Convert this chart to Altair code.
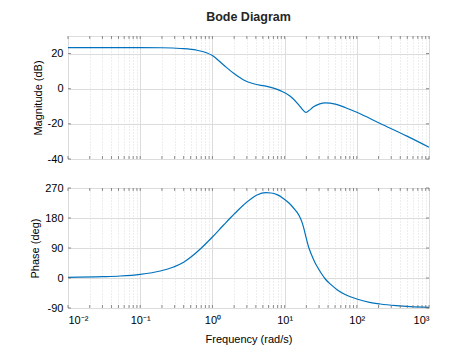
import altair as alt
import pandas as pd

# ---- data ----
mag_freq = [0.01, 0.1, 0.2, 0.36, 0.61, 1.0, 1.43, 1.97, 2.71, 3.72, 5.7, 8.7,
            12.0, 15.6, 18.0, 19.7, 21.5, 25.2, 30.0, 36.6, 50.4, 70.0, 100.0,
            211.0, 495.0, 1000.0]
mag_db = [23.4, 23.4, 23.3, 22.9, 21.9, 18.9, 13.5, 8.8, 5.0, 2.8, 1.3, -1.1,
          -4.3, -9.0, -12.2, -13.5, -12.6, -10.3, -8.8, -8.1, -8.8, -10.8, -13.4,
          -19.8, -27.0, -33.3]

ph_freq = [0.01, 0.03, 0.053, 0.1, 0.19, 0.29, 0.40, 0.52, 0.68, 1.0, 1.43,
           2.07, 3.01, 4.15, 5.5, 6.5, 7.85, 9.7, 11.5, 13.3, 15.0, 16.5, 17.5,
           18.5, 19.5, 20.5, 21.5, 22.7, 24.0, 26.0, 28.1, 32.0, 36.6, 44.0,
           53.2, 70.0, 100.0, 150.0, 211.0, 350.0, 551.0, 1000.0]
ph_deg = [2, 4, 6, 11, 21, 33, 47, 65, 87, 123, 159,
          195, 228, 249, 256, 255, 250, 238, 225, 210, 196, 180, 166,
          148, 128, 109, 93, 79, 66, 49, 35, 15, -3, -20,
          -35, -50, -63, -73, -78, -83, -86, -88]

x_major = [0.01, 0.1, 1, 10, 100, 1000]
x_minor = [m * d for d in [0.01, 0.1, 1, 10, 100] for m in range(2, 10)]
mag_ticks = [-40, -20, 0, 20]
ph_ticks = [-90, 0, 90, 180, 270]

mag_df = pd.DataFrame({"f": mag_freq, "v": mag_db})
ph_df = pd.DataFrame({"f": ph_freq, "v": ph_deg})

W, H1, H2 = 361, 123, 120
LINE = "#0072BD"
TXT = "#404040"
GRID = "#dcdcdc"
BOX = "#6e6e6e"
FONT = "Liberation Sans"
TL = 3  # tick length

sup = "['\u207b\u00b2','\u207b\u00b9','\u2070','\u00b9','\u00b2','\u00b3'][round(log(datum.value)/LN10)+2]"
xlabel_expr = "'10' + " + sup


def panel(df, dom, ticks, ytitle, h, show_x, title=None):
    xs = alt.Scale(type="log", domain=[0.01, 1000], nice=False)
    ys = alt.Scale(domain=dom, nice=False, zero=False)
    minor = alt.Chart(df).mark_line(opacity=0).encode(
        x=alt.X("f:Q", scale=xs,
                axis=alt.Axis(orient="bottom", values=x_minor, grid=True,
                              gridDash=[1, 2], gridColor=GRID, labels=False,
                              ticks=False, domain=False, title=None)),
        y=alt.Y("v:Q", scale=ys, axis=None),
    )
    if show_x:
        xax = alt.Axis(orient="bottom", values=x_major, grid=True,
                       gridColor=GRID, ticks=False, domain=False,
                       labelExpr=xlabel_expr, labelPadding=6, labelFontSize=11,
                       title="Frequency (rad/s)", titlePadding=8,
                       titleFontWeight="normal")
    else:
        xax = alt.Axis(orient="bottom", values=x_major, grid=True,
                       gridColor=GRID, ticks=False, domain=False,
                       labels=False, title=None)
    line = alt.Chart(df).mark_line(color=LINE, strokeWidth=1.2,
                                   interpolate="monotone").encode(
        x=alt.X("f:Q", scale=xs, axis=xax),
        y=alt.Y("v:Q", scale=ys,
                axis=alt.Axis(orient="left", values=ticks, grid=True,
                              gridColor=GRID, ticks=False, domain=False,
                              labelExpr="toString(datum.value)", labelFontSize=11,
                              labelPadding=5, title=ytitle, titlePadding=4,
                              titleFontWeight="normal")),
    )
    # inward tick marks (MATLAB style), positioned from the tick values
    xt = pd.DataFrame({"t": x_major + x_minor})
    yt = pd.DataFrame({"t": ticks})
    xb = alt.Chart(xt).mark_rule(color=BOX, strokeWidth=0.8).encode(
        x=alt.X("t:Q", scale=xs, axis=None), y=alt.value(h), y2=alt.value(h - TL))
    xtop = alt.Chart(xt).mark_rule(color=BOX, strokeWidth=0.8).encode(
        x=alt.X("t:Q", scale=xs, axis=None), y=alt.value(0), y2=alt.value(TL))
    yl = alt.Chart(yt).mark_rule(color=BOX, strokeWidth=0.8).encode(
        y=alt.Y("t:Q", scale=ys, axis=None), x=alt.value(0), x2=alt.value(TL))
    yr = alt.Chart(yt).mark_rule(color=BOX, strokeWidth=0.8).encode(
        y=alt.Y("t:Q", scale=ys, axis=None), x=alt.value(W), x2=alt.value(W - TL))
    ch = alt.layer(minor, line, xb, xtop, yl, yr).resolve_axis(
        x="independent", y="independent")
    if title:
        ch = ch.properties(title=alt.TitleParams(
            title, fontSize=12.5, fontWeight="bold", color="#262626",
            font=FONT, anchor="middle", frame="group", offset=12))
    return ch.properties(width=W, height=h)


top = panel(mag_df, [-40, 30], mag_ticks, "Magnitude (dB)", H1, False,
            title="Bode Diagram")
bot = panel(ph_df, [-90, 270], ph_ticks, "Phase (deg)", H2, True)

chart = alt.vconcat(top, bot, spacing=16).properties(
    padding={"left": 29, "top": 10, "right": 5, "bottom": 5},
).configure_view(stroke=BOX, strokeWidth=1).configure_axis(
    labelFont=FONT, titleFont=FONT, labelFontSize=10, titleFontSize=12,
    labelColor=TXT, titleColor=TXT, titleFontWeight="normal",
).configure(background="white")

chart.save("out.html", embed_options={"renderer": "svg", "actions": False})
